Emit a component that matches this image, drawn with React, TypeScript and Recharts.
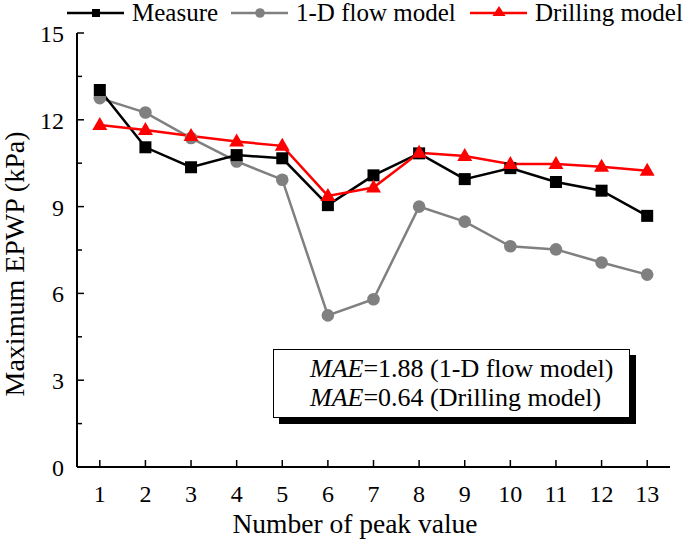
import { LineChart, Line, XAxis, YAxis, Legend } from 'recharts';

const peaks = [1, 2, 3, 4, 5, 6, 7, 8, 9, 10, 11, 12, 13];
const measure = [13.03, 11.05, 10.36, 10.78, 10.67, 9.05, 10.08, 10.84, 9.95, 10.33, 9.85, 9.55, 8.68];
const flowModel = [12.75, 12.25, 11.37, 10.56, 9.93, 5.24, 5.8, 9.0, 8.48, 7.63, 7.52, 7.07, 6.65];
const drillingModel = [11.82, 11.65, 11.44, 11.25, 11.1, 9.37, 9.66, 10.86, 10.75, 10.47, 10.47, 10.38, 10.24];
const yTicks = [0, 1.5, 3, 4.5, 6, 7.5, 9, 10.5, 12, 13.5, 15];
const maeLines = ['=1.88 (1-D flow model)', '=0.64 (Drilling model)'];

const data = peaks.map((p, i) => ({
  peak: p,
  measure: measure[i],
  flow: flowModel[i],
  drilling: drillingModel[i],
}));

const FONT = '"Liberation Serif", "Times New Roman", serif';
const GRAY = '#808080';
const RED = '#ff0000';

// ticks point inward, so draw them by hand next to the label
const XTick = ({ x, y, payload }: any) => (
  <g>
    <line x1={x} x2={x} y1={y} y2={y - 7} stroke="#000" strokeWidth={1.5} />
    <text x={x} y={y + 35} textAnchor="middle" fontSize={24} fontFamily={FONT} fill="#000">
      {payload.value}
    </text>
  </g>
);

const YTick = ({ x, y, payload }: any) => {
  const major = payload.value % 3 === 0;
  return (
    <g>
      <line x1={x} x2={x + (major ? 7 : 5)} y1={y} y2={y} stroke="#000" strokeWidth={1.5} />
      {major && (
        <text x={x - 13} y={y + 9} textAnchor="end" fontSize={24} fontFamily={FONT} fill="#000">
          {payload.value}
        </text>
      )}
    </g>
  );
};

const SquareDot = ({ cx, cy }: any) => (
  <rect x={cx - 6} y={cy - 6} width={12} height={12} fill="#000" />
);

const CircleDot = ({ cx, cy }: any) => <circle cx={cx} cy={cy} r={6.3} fill={GRAY} />;

const TriangleDot = ({ cx, cy }: any) => (
  <polygon points={`${cx},${cy - 8} ${cx + 7.5},${cy + 5} ${cx - 7.5},${cy + 5}`} fill={RED} />
);

const LegendContent = () => (
  <svg width={685} height={30} style={{ display: 'block' }}>
    <g fontFamily={FONT} fontSize={25} fill="#000">
      <line x1={67} x2={124} y1={13} y2={13} stroke="#000" strokeWidth={2.5} />
      <rect x={92} y={9} width={8} height={8} fill="#000" />
      <text x={132} y={21}>Measure</text>
      <line x1={231} x2={288} y1={13} y2={13} stroke={GRAY} strokeWidth={2.5} />
      <circle cx={260} cy={13} r={4.8} fill={GRAY} />
      <text x={296} y={21}>1-D flow model</text>
      <line x1={470} x2={527} y1={13} y2={13} stroke={RED} strokeWidth={2.5} />
      <polygon points="499,6 505.5,16 492.5,16" fill={RED} />
      <text x={535} y={21}>Drilling model</text>
    </g>
  </svg>
);

export default function App() {
  return (
    <div style={{ position: 'absolute', left: 0, top: 0, width: 685, height: 549, background: '#fff' }}>
      <LineChart width={685} height={549} data={data} margin={{ top: 33, right: 15, left: 0, bottom: 0 }}>
        <XAxis
          dataKey="peak"
          type="number"
          domain={[0.5, 13.5]}
          ticks={peaks}
          height={82}
          axisLine={{ stroke: '#000', strokeWidth: 2 }}
          tickLine={false}
          tickSize={0}
          tickMargin={0}
          tick={<XTick />}
          label={{
            content: () => (
              <text x={355} y={533} textAnchor="middle" fontSize={27.5} fontFamily={FONT} fill="#000">
                Number of peak value
              </text>
            ),
          }}
        />
        <XAxis xAxisId="top" orientation="top" dataKey="peak" type="number" domain={[0.5, 13.5]} height={0} tick={false} tickLine={false} axisLine={{ stroke: '#000', strokeWidth: 2 }} />
        <YAxis
          domain={[0, 15]}
          ticks={yTicks}
          width={77}
          axisLine={{ stroke: '#000', strokeWidth: 2 }}
          tickLine={false}
          tickSize={0}
          tickMargin={0}
          tick={<YTick />}
          label={{
            content: () => (
              <text transform="translate(24,264) rotate(-90)" textAnchor="middle" fontSize={28} fontFamily={FONT} fill="#000">
                Maximum EPWP (kPa)
              </text>
            ),
          }}
        />
        <YAxis yAxisId="right" orientation="right" domain={[0, 15]} width={0} tick={false} tickLine={false} axisLine={{ stroke: '#000', strokeWidth: 2 }} />
        <Legend layout="horizontal" verticalAlign="middle" align="center" content={<LegendContent />} wrapperStyle={{ top: 0, left: 0, width: 685 }} />
        <Line dataKey="flow" name="1-D flow model" stroke={GRAY} strokeWidth={2.5} dot={<CircleDot />} isAnimationActive={false} />
        <Line dataKey="measure" name="Measure" stroke="#000" strokeWidth={2.5} dot={<SquareDot />} isAnimationActive={false} />
        <Line dataKey="drilling" name="Drilling model" stroke={RED} strokeWidth={2.5} dot={<TriangleDot />} isAnimationActive={false} />
      </LineChart>
      <div
        style={{
          position: 'absolute',
          left: 273,
          top: 349,
          width: 357,
          height: 69,
          border: '1px solid #000',
          boxShadow: '6px 6px 0 #000',
          background: '#fff',
          fontFamily: FONT,
          fontSize: 26,
          lineHeight: '29px',
          paddingLeft: 36,
          paddingTop: 4,
          boxSizing: 'border-box',
        }}
      >
        {maeLines.map((t) => (
          <div key={t}>
            <i>MAE</i>
            {t}
          </div>
        ))}
      </div>
    </div>
  );
}
